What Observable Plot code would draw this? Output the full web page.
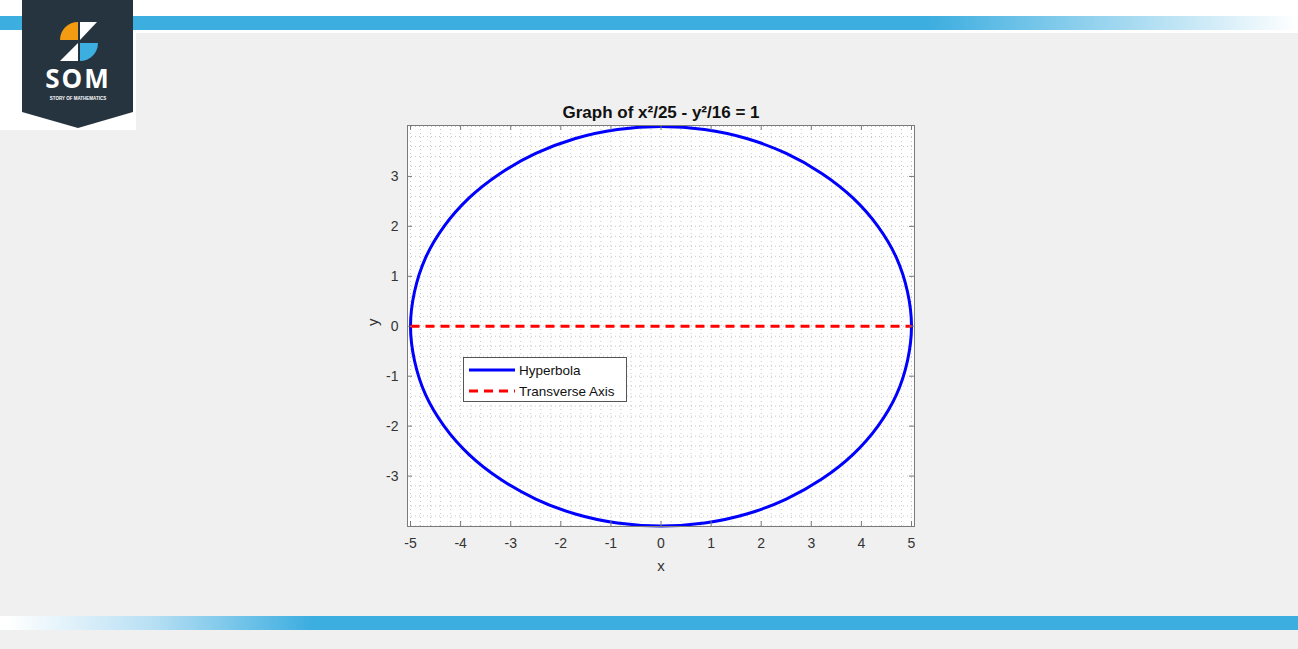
<!DOCTYPE html>
<html>
<head>
<meta charset="utf-8">
<script src="https://cdn.jsdelivr.net/npm/d3@7"></script>
<script src="https://cdn.jsdelivr.net/npm/@observablehq/plot@0.6"></script>
<style>
  html, body { margin: 0; padding: 0; }
  body { width: 1298px; height: 649px; background: #f0f0f0; position: relative; overflow: hidden; font-family: "Liberation Sans", Arial, Helvetica, sans-serif; }
  .abs { position: absolute; }
  #chart { position: absolute; left: 0; top: 0; }
</style>
</head>
<body>
<div class="abs" style="left:0;top:0;width:1298px;height:33px;background:#ffffff;"></div>
<div class="abs" style="left:0;top:0;width:136px;height:130px;background:#ffffff;"></div>
<div class="abs" style="left:0;top:16px;width:1298px;height:14px;background:linear-gradient(to right,#3daee0 0px,#3daee0 930px,#ffffff 1298px);"></div>
<div class="abs" style="left:0;top:616px;width:1298px;height:14px;background:linear-gradient(to right,#ffffff 8px,#b9e0f4 150px,#3daee0 310px,#3daee0 1298px);"></div>
<svg class="abs" style="left:0;top:0" width="160" height="140">
  <polygon points="22,0 133,0 133,112 78,128 22,112" fill="#263440"/>
  <path d="M78,40 L60,40 A18,18 0 0 1 78,22 Z" fill="#f39c12"/>
  <polygon points="80,22 97,22 80,40" fill="#ffffff"/>
  <polygon points="78,43 78,61 60,61" fill="#ffffff"/>
  <path d="M80,43 L98,43 A18,18 0 0 1 80,61 Z" fill="#3daee0"/>
  <text x="78" y="88" text-anchor="middle" fill="#ffffff" font-family="'Open Sans', 'Liberation Sans', sans-serif" font-weight="bold" font-size="26" letter-spacing="2">SOM</text>
  <text x="78" y="99.5" text-anchor="middle" fill="#ffffff" font-family="'Liberation Sans', sans-serif" font-weight="bold" font-size="4.5">STORY OF MATHEMATICS</text>
</svg>
<div id="chart"></div>
<svg id="legend" class="abs" style="left:463px;top:357px" width="164" height="45"></svg>
<script>
// ---- data ----
const titleText = "Graph of x²/25 - y²/16 = 1";
const xLabel = "x";
const yLabel = "y";
const xTicks = [-5, -4, -3, -2, -1, 0, 1, 2, 3, 4, 5];
const yTicks = [-3, -2, -1, 0, 1, 2, 3];
// curve points (every 10 degrees round the curve)
const curveX = [5, 4.92, 4.70, 4.33, 3.83, 3.21, 2.50, 1.71, 0.87, 0, -0.87, -1.71, -2.50, -3.21, -3.83, -4.33, -4.70, -4.92,
                -5, -4.92, -4.70, -4.33, -3.83, -3.21, -2.50, -1.71, -0.87, 0, 0.87, 1.71, 2.50, 3.21, 3.83, 4.33, 4.70, 4.92];
const curveY = [0, 0.69, 1.37, 2.00, 2.57, 3.06, 3.46, 3.76, 3.94, 4, 3.94, 3.76, 3.46, 3.06, 2.57, 2.00, 1.37, 0.69,
                0, -0.69, -1.37, -2.00, -2.57, -3.06, -3.46, -3.76, -3.94, -4, -3.94, -3.76, -3.46, -3.06, -2.57, -2.00, -1.37, -0.69];
const axisX = [-5, 5];
const axisY = [0, 0];
const legendLabels = ["Hyperbola", "Transverse Axis"];
const legendColors = ["#0000ff", "#ff0000"];
const legendDash = [null, "9,6"];

// grid positions (minor grid every 0.2)
const xMinor = d3.range(-25, 26).map(i => i / 5);
const yMinor = d3.range(-20, 21).map(i => i / 5);

const curve = curveX.map((x, i) => ({x, y: curveY[i]}));
const axisLine = axisX.map((x, i) => ({x, y: axisY[i]}));

const W = 1298, H = 649;
const mL = 407, mR = W - 914, mT = 125, mB = H - 526;
const fw = W - mL - mR, fh = H - mT - mB;

const fmt = d => String(d);

const plot = Plot.plot({
  width: W, height: H,
  marginLeft: mL, marginRight: mR, marginTop: mT, marginBottom: mB,
  style: {background: "transparent", fontFamily: "'Liberation Sans', Arial, Helvetica, sans-serif", fontSize: "14px", color: "#333333", overflow: "visible"},
  x: {domain: [-5.06, 5.06]},
  y: {domain: [-4.01, 4.02]},
  marks: [
    Plot.frame({fill: "#ffffff", stroke: null}),
    Plot.ruleX(xMinor, {stroke: "#c8c8c8", strokeWidth: 1, strokeDasharray: "1,3"}),
    Plot.ruleY(yMinor, {stroke: "#c8c8c8", strokeWidth: 1, strokeDasharray: "1,3"}),
    Plot.line(curve, {x: "x", y: "y", stroke: legendColors[0], strokeWidth: 3, curve: "catmull-rom-closed"}),
    Plot.line(axisLine, {x: "x", y: "y", stroke: legendColors[1], strokeWidth: 3, strokeDasharray: legendDash[1], strokeLinecap: "butt"}),
    Plot.frame({stroke: "#7a7a7a", strokeWidth: 1}),
    Plot.tickX(xTicks, {x: d => d, stroke: "#7a7a7a", insetTop: fh - 5}),
    Plot.tickX(xTicks, {x: d => d, stroke: "#7a7a7a", insetBottom: fh - 5}),
    Plot.tickY(yTicks, {y: d => d, stroke: "#7a7a7a", insetRight: fw - 5}),
    Plot.tickY(yTicks, {y: d => d, stroke: "#7a7a7a", insetLeft: fw - 5}),
    Plot.axisX(xTicks, {tickSize: 0, tickPadding: 12, tickFormat: fmt, label: null, fill: "#333333", fontSize: 14}),
    Plot.axisY(yTicks, {tickSize: 0, tickPadding: 9, tickFormat: fmt, label: null, fill: "#333333", fontSize: 14}),
    Plot.text([titleText], {frameAnchor: "top", dy: -13, lineAnchor: "middle", fontWeight: "bold", fontSize: 17, fill: "#111111"}),
    Plot.text([xLabel], {frameAnchor: "bottom", dy: 40, lineAnchor: "middle", fontSize: 15, fill: "#333333"}),
    Plot.text([yLabel], {frameAnchor: "left", dx: -34, lineAnchor: "middle", rotate: -90, fontSize: 15, fill: "#333333"})
  ]
});
document.getElementById("chart").appendChild(plot);

// legend
const lg = d3.select("#legend");
lg.append("rect").attr("x", 0.5).attr("y", 0.5).attr("width", 163).attr("height", 44)
  .attr("fill", "#ffffff").attr("stroke", "#555555");
legendLabels.forEach((lab, i) => {
  const cy = 13 + i * 21;
  lg.append("line").attr("x1", 6).attr("x2", 52).attr("y1", cy).attr("y2", cy)
    .attr("stroke", legendColors[i]).attr("stroke-width", 3)
    .attr("stroke-dasharray", legendDash[i]);
  lg.append("text").attr("x", 56).attr("y", cy).attr("dy", "0.35em")
    .attr("font-family", "'Liberation Sans', Arial, sans-serif").attr("font-size", 13.5)
    .attr("fill", "#111111").text(lab);
});
</script>
</body>
</html>
